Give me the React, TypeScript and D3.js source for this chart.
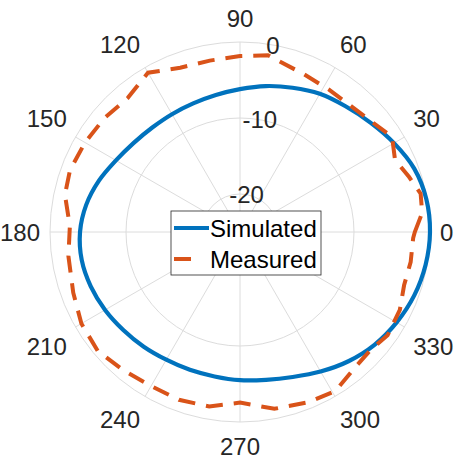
import React from "react";
import * as d3 from "d3";

// ---- data ----
const thetaTicks = [0, 30, 60, 90, 120, 150, 180, 210, 240, 270, 300, 330];
const rTicks = [-20, -10, 0];
const rDomain = [-25, 0];

const simAngles = [0, 10, 20, 30, 40, 50, 60, 70, 80, 90, 100, 110, 120, 130, 140, 150, 160, 170, 180, 190, 200, 210, 220, 230, 240, 250, 260, 270, 280, 290, 300, 310, 320, 330, 340, 350];
const simValues = [0, -0.1, -0.6, -1.6, -2.6, -3.4, -4.0, -4.8, -5.5, -6.2, -6.7, -7.0, -7.1, -7.05, -6.75, -6.15, -5.25, -4.45, -3.95, -3.85, -4.1, -4.5, -4.95, -5.3, -5.6, -5.7, -5.7, -5.5, -5.25, -4.7, -3.8, -2.8, -1.9, -1.2, -0.6, -0.2];

const measAngles = [0, 6, 12, 18, 25, 32, 40, 48, 58, 68, 81, 90, 100, 110, 120, 130, 140, 150, 160, 168, 178, 188, 200, 210, 220, 230, 240, 250, 260, 270, 281, 292, 301, 310, 318, 325, 334, 342, 350, 358];
const measValues = [-2.0, -0.9, -0.7, -1.6, -2.5, -1.4, -2.4, -2.9, -2.9, -2.6, -1.45, -1.85, -2.1, -2.0, -0.8, -2.0, -1.7, -1.45, -1.2, -1.45, -2.6, -2.2, -1.65, -0.9, -0.6, -1.2, -1.6, -1.5, -1.7, -2.55, -1.3, -0.85, -0.6, -1.6, -1.85, -1.3, -1.6, -2.3, -2.2, -2.2];

const seriesNames = ["Simulated", "Measured"];
const colors = ["#0072BD", "#D95319"];

const W = 474, H = 474;
const cx = 240, cy = 232, R = 190;
const FONT = "'Liberation Sans', Arial, Helvetica, sans-serif";
const FS = 24;
const textColor = "#262626";
const gridColor = "#dcdcdc";

export default function App() {
  const r = d3.scaleLinear().domain(rDomain).range([0, R]);
  const toRad = (deg: number) => (deg * Math.PI) / 180;
  // d3 radial angle: clockwise from 12 o'clock
  const d3Angle = (deg: number) => Math.PI / 2 - toRad(deg);

  const simData = simAngles.map((a, i) => [a, simValues[i]] as [number, number]);
  const measData = measAngles.map((a, i) => [a, measValues[i]] as [number, number]);

  const simLine = d3
    .lineRadial<[number, number]>()
    .angle((d) => d3Angle(d[0]))
    .radius((d) => r(d[1]))
    .curve(d3.curveCatmullRomClosed.alpha(0.5));
  const measLine = d3
    .lineRadial<[number, number]>()
    .angle((d) => d3Angle(d[0]))
    .radius((d) => r(d[1]))
    .curve(d3.curveLinearClosed);

  const labelR = R + 10;
  const labelShift = 14;
  const labelPos = (deg: number) => {
    const t = toRad(deg);
    const c = Math.cos(t);
    const s = Math.sin(t);
    const anchor = c > 0.01 ? "start" : c < -0.01 ? "end" : "middle";
    const sy = s > 0.01 ? 1 : s < -0.01 ? -1 : 0;
    return {
      x: cx + labelR * c,
      y: cy - labelR * s - labelShift * sy,
      anchor,
    };
  };

  const rLabelAngle = 80;

  return (
    <svg
      width={W}
      height={H}
      style={{ position: "absolute", left: 0, top: 0, background: "#fff" }}
      fontFamily={FONT}
    >
      <rect x={0} y={0} width={W} height={H} fill="#fff" />
      {/* grid */}
      <g transform={`translate(${cx},${cy})`}>
        {rTicks.map((v) => (
          <circle key={v} r={r(v)} fill="none" stroke={gridColor} strokeWidth={1} />
        ))}
        {thetaTicks.map((a) => (
          <line
            key={a}
            x1={0}
            y1={0}
            x2={R * Math.cos(toRad(a))}
            y2={-R * Math.sin(toRad(a))}
            stroke={gridColor}
            strokeWidth={1}
          />
        ))}
      </g>
      {/* theta labels */}
      {thetaTicks.map((a) => {
        const p = labelPos(a);
        return (
          <text key={a} x={p.x} y={p.y} dy="0.36em" textAnchor={p.anchor} fontSize={FS} fill={textColor}>
            {String(a)}
          </text>
        );
      })}
      {/* r labels */}
      {rTicks.map((v) => {
        const t = toRad(rLabelAngle);
        const x = cx + r(v) * Math.cos(t);
        const y = cy - r(v) * Math.sin(t);
        return (
          <text key={v} x={x} y={y} dy="0.36em" textAnchor="middle" fontSize={FS} fill={textColor}>
            {String(v)}
          </text>
        );
      })}
      {/* data */}
      <g transform={`translate(${cx},${cy})`}>
        <path d={simLine(simData) || ""} fill="none" stroke={colors[0]} strokeWidth={4.2} />
        <path
          d={measLine(measData) || ""}
          fill="none"
          stroke={colors[1]}
          strokeWidth={4}
          strokeDasharray="17 11"
        />
      </g>
      {/* legend */}
      <g>
        <rect x={171} y={211} width={150} height={64} fill="#fff" stroke={textColor} strokeWidth={0.8} />
        <line x1={174} x2={209} y1={228} y2={228} stroke={colors[0]} strokeWidth={4} />
        <text x={210} y={228} dy="0.36em" fontSize={FS} fill="#000">
          {seriesNames[0]}
        </text>
        <line x1={174} x2={191} y1={259} y2={259} stroke={colors[1]} strokeWidth={4} />
        <text x={210} y={259} dy="0.36em" fontSize={FS} fill="#000">
          {seriesNames[1]}
        </text>
      </g>
    </svg>
  );
}
